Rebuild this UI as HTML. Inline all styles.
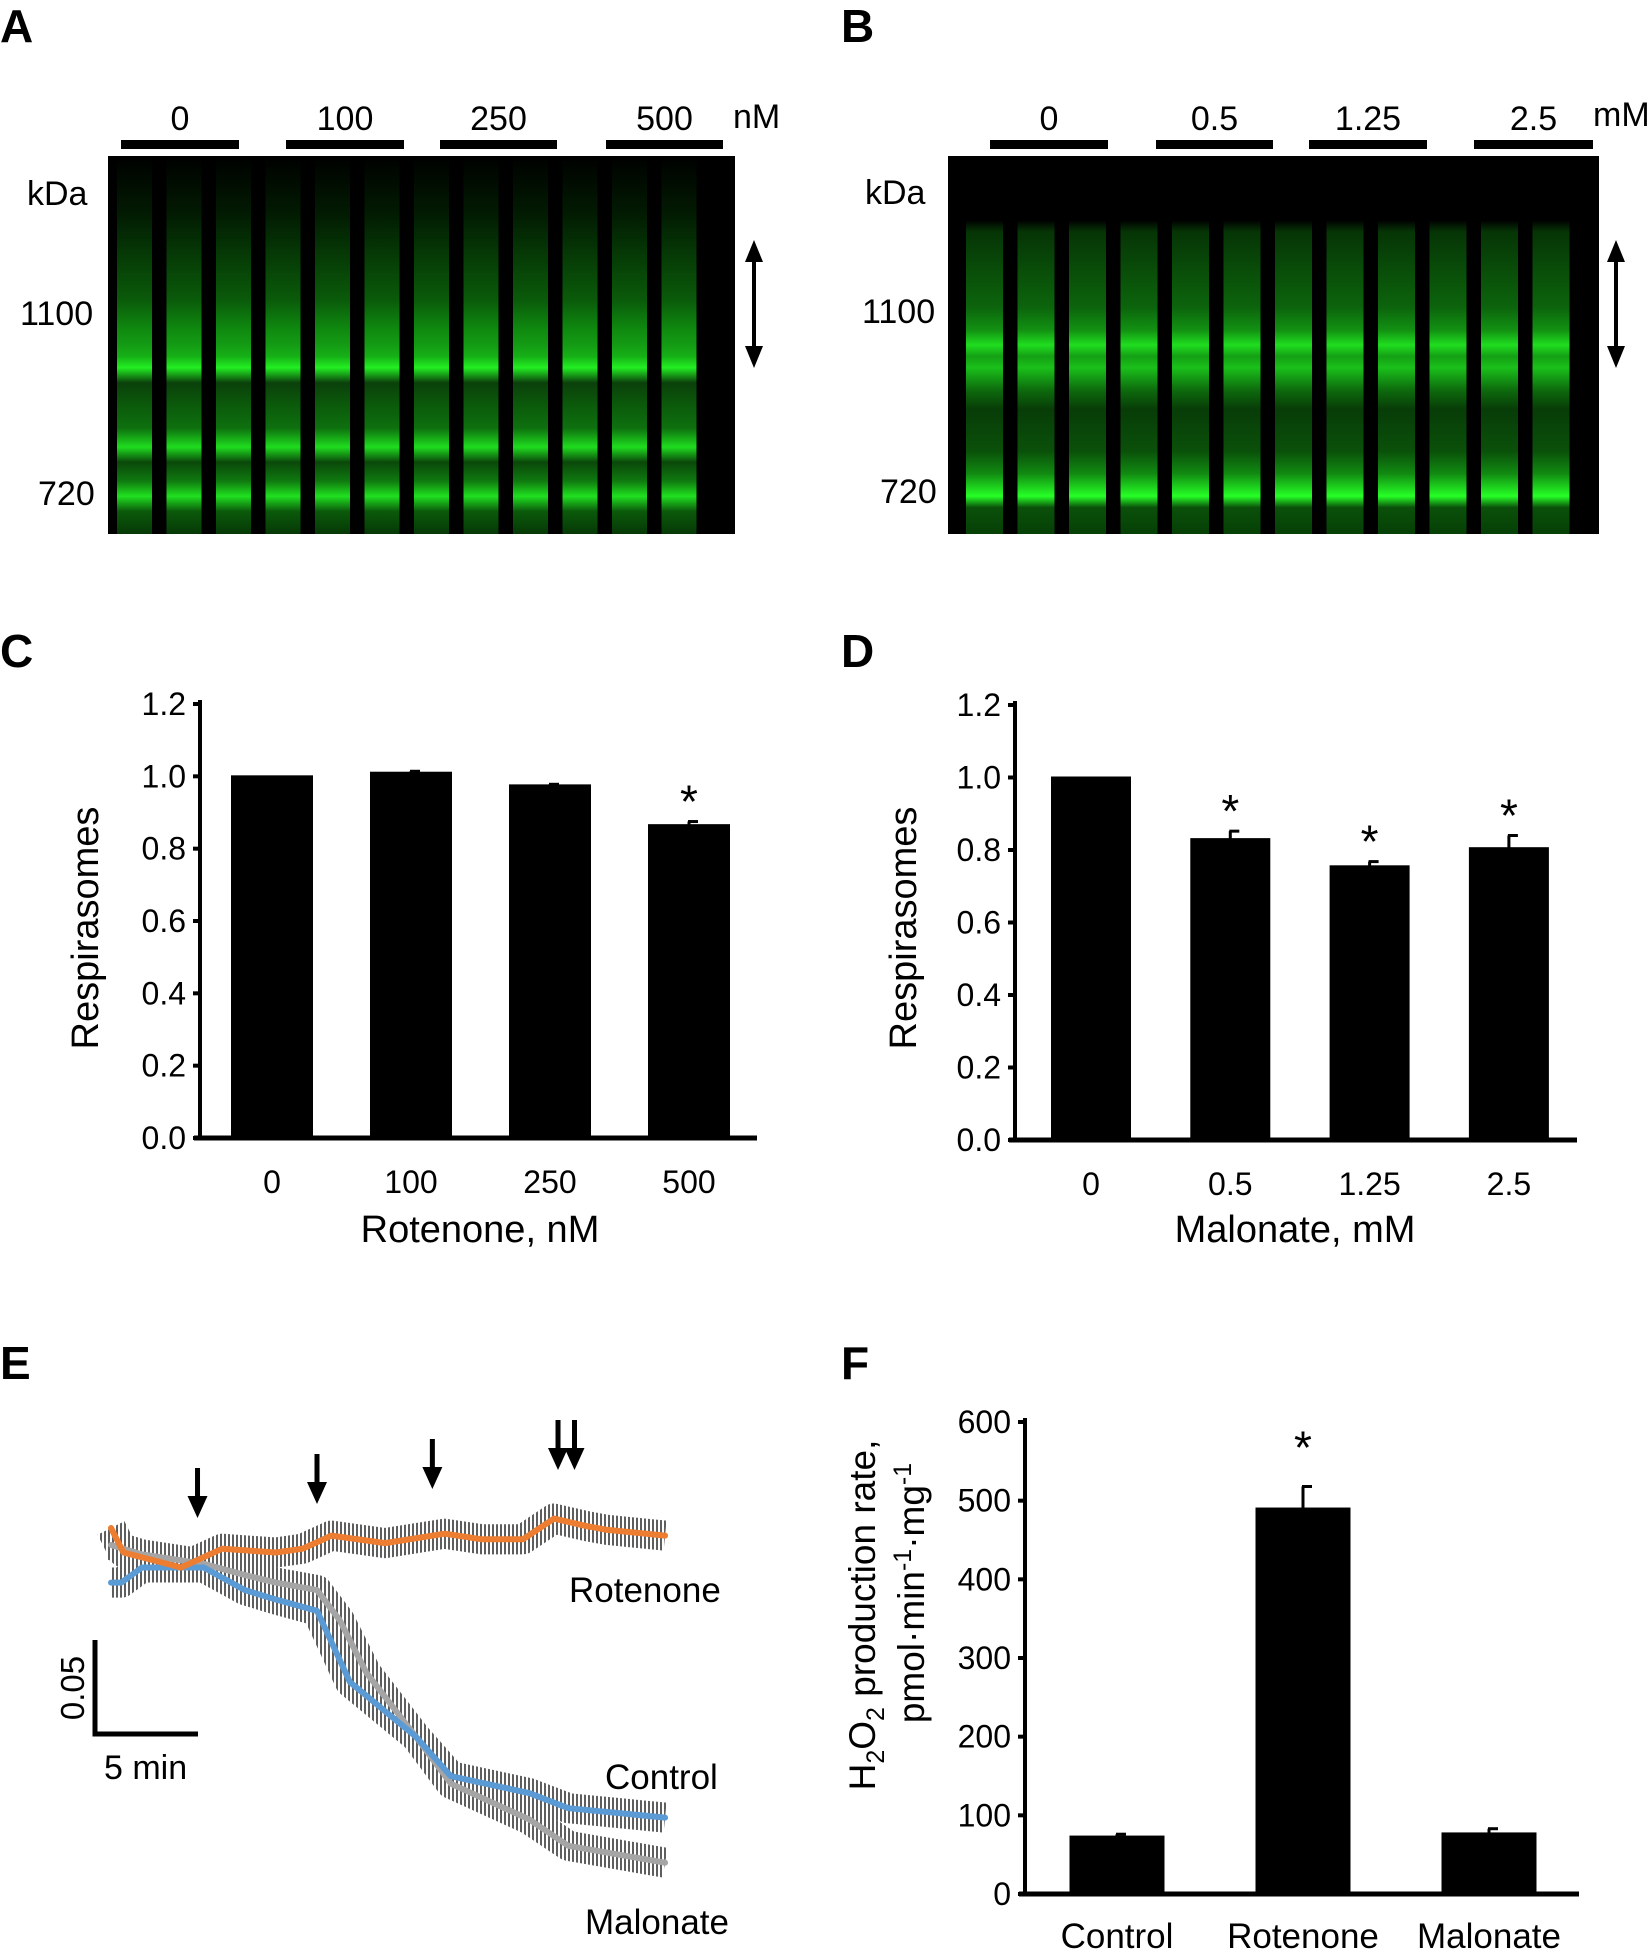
<!DOCTYPE html>
<html><head><meta charset="utf-8">
<style>
html,body{margin:0;padding:0;background:#fff;}
svg{display:block;font-family:"Liberation Sans",Arial,sans-serif;}
.lt{font-weight:bold;font-size:46px;}
.t{font-size:34px;}
</style></head>
<body>
<svg id="fig" width="1648" height="1951" viewBox="0 0 1648 1951" xmlns="http://www.w3.org/2000/svg">
<defs>
<linearGradient id="laneA" x1="0" y1="0" x2="0" y2="1">
<stop offset="0" stop-color="#000"/>
<stop offset="0.15" stop-color="#021a02"/>
<stop offset="0.38" stop-color="#0a5a0a"/>
<stop offset="0.46" stop-color="#0f8a0f"/>
<stop offset="0.5" stop-color="#149b14"/>
<stop offset="0.53" stop-color="#16b016"/>
<stop offset="0.56" stop-color="#22ee22"/>
<stop offset="0.6" stop-color="#0b400b"/>
<stop offset="0.66" stop-color="#0b5a0b"/>
<stop offset="0.72" stop-color="#0e700e"/>
<stop offset="0.77" stop-color="#1fdc1f"/>
<stop offset="0.81" stop-color="#0a480a"/>
<stop offset="0.86" stop-color="#0f7a0f"/>
<stop offset="0.9" stop-color="#20e020"/>
<stop offset="0.94" stop-color="#0b5a0b"/>
<stop offset="1" stop-color="#063806"/>
</linearGradient>
<linearGradient id="laneB" x1="0" y1="0" x2="0" y2="1">
<stop offset="0" stop-color="#000"/>
<stop offset="0.17" stop-color="#000"/>
<stop offset="0.2" stop-color="#063406"/>
<stop offset="0.4" stop-color="#0c640c"/>
<stop offset="0.46" stop-color="#129012"/>
<stop offset="0.5" stop-color="#20dd20"/>
<stop offset="0.53" stop-color="#14a014"/>
<stop offset="0.56" stop-color="#1ac01a"/>
<stop offset="0.62" stop-color="#0d6a0d"/>
<stop offset="0.67" stop-color="#083c08"/>
<stop offset="0.78" stop-color="#0a500a"/>
<stop offset="0.84" stop-color="#118a11"/>
<stop offset="0.9" stop-color="#26ff26"/>
<stop offset="0.93" stop-color="#0a500a"/>
<stop offset="1" stop-color="#064006"/>
</linearGradient>
<pattern id="hatch" patternUnits="userSpaceOnUse" width="4" height="10">
<rect x="0" y="0" width="2" height="10" fill="#5e5e5e"/>
</pattern>
</defs>

<text class="lt" x="0" y="42">A</text>
<text class="lt" x="841" y="42">B</text>
<text class="lt" x="0" y="667">C</text>
<text class="lt" x="841" y="667">D</text>
<text class="lt" x="0" y="1379">E</text>
<text class="lt" x="841" y="1379">F</text>

<g>
<rect x="108" y="156" width="627" height="378" fill="#000"/>
<g id="lanesA"></g>
<g class="t">
<text x="27" y="205">kDa</text>
<text x="20" y="325">1100</text>
<text x="38" y="505">720</text>
</g>
<g id="groupsA"></g>
<text class="t" x="733" y="128">nM</text>
<g>
<line x1="754" y1="252" x2="754" y2="356" stroke="#000" stroke-width="4"/>
<polygon points="754,240 745,262 763,262" fill="#000"/>
<polygon points="754,368 745,346 763,346" fill="#000"/>
</g>
</g>

<g>
<rect x="948" y="156" width="651" height="378" fill="#000"/>
<g id="lanesB"></g>
<g class="t">
<text x="865" y="204">kDa</text>
<text x="862" y="323">1100</text>
<text x="880" y="503">720</text>
</g>
<g id="groupsB"></g>
<text class="t" x="1593" y="126">mM</text>
<g>
<line x1="1616" y1="252" x2="1616" y2="356" stroke="#000" stroke-width="4"/>
<polygon points="1616,240 1607,262 1625,262" fill="#000"/>
<polygon points="1616,368 1607,346 1625,346" fill="#000"/>
</g>
</g>

<g id="chartC"></g>
<g id="chartD"></g>
<g id="chartE"></g>
<g id="chartF"></g>
</svg>
<script>
const NS="http://www.w3.org/2000/svg";
function mk(parent,tag,attrs,txt){const e=document.createElementNS(NS,tag);for(const k in attrs)e.setAttribute(k,attrs[k]);if(txt!==undefined)e.textContent=txt;parent.appendChild(e);return e;}

const gelAGroups=["0","100","250","500"];
const gelBGroups=["0","0.5","1.25","2.5"];

(function(){
  const gA=document.getElementById('lanesA');
  for(let i=0;i<12;i++){const r=mk(gA,'rect',{x:117+i*49.5,y:156,width:35,height:378,fill:'url(#laneA)'});
    
    }
  const gB=document.getElementById('lanesB');
  for(let i=0;i<12;i++){const r=mk(gB,'rect',{x:966+i*51.5,y:156,width:37,height:378,fill:'url(#laneB)'});
    
    }
  const barsA=[[121,239],[286,404],[440,557],[606,723]];
  const barsB=[[990,1108],[1156,1273],[1309,1427],[1474,1593]];
  const grA=document.getElementById('groupsA'),grB=document.getElementById('groupsB');
  gelAGroups.forEach((l,i)=>{const b=barsA[i];
    const r=mk(grA,'rect',{x:b[0],y:140,width:b[1]-b[0],height:9,fill:'#000'});
    
    
    const t=mk(grA,'text',{x:(b[0]+b[1])/2,y:130,'text-anchor':'middle','font-size':34},l);
    
    });
  gelBGroups.forEach((l,i)=>{const b=barsB[i];
    const r=mk(grB,'rect',{x:b[0],y:140,width:b[1]-b[0],height:9,fill:'#000'});
    
    
    const t=mk(grB,'text',{x:(b[0]+b[1])/2,y:130,'text-anchor':'middle','font-size':34},l);
    
    });
})();

const cCategories=["0","100","250","500"];
const cValues=[1.0,1.01,0.975,0.865];
const cErrors=[0,0.004,0.003,0.01];
const cStars=[false,false,false,true];
const dCategories=["0","0.5","1.25","2.5"];
const dValues=[1.0,0.83,0.755,0.805];
const dErrors=[0,0.022,0.013,0.035];
const dStars=[false,true,true,true];
const respTicks=["0.0","0.2","0.4","0.6","0.8","1.0","1.2"];
const fCategories=["Control","Rotenone","Malonate"];
const fValues=[73,490,77];
const fErrors=[3,28,6];
const fStars=[false,true,false];
const fTicks=["0","100","200","300","400","500","600"];

function barChart(g,o){
  const y=v=>o.y0-(v-o.min)/(o.max-o.min)*(o.y0-o.y1);
  const ax=mk(g,'line',{x1:o.ax,y1:o.y1-4,x2:o.ax,y2:o.y0,stroke:'#000','stroke-width':4});
  
  
  o.ticks.forEach((t,i)=>{const v=o.min+i*(o.max-o.min)/(o.ticks.length-1);const yy=y(v);
    const tk=mk(g,'line',{x1:o.ax-7,y1:yy,x2:o.ax,y2:yy,stroke:'#000','stroke-width':4});
    
    
    const tl=mk(g,'text',{x:o.ax-14,y:yy+11,'text-anchor':'end','font-size':32},t);
    
    });
  o.cats.forEach((c,i)=>{const cx=o.c0+i*o.step;const top=y(o.vals[i]);
    if(o.errs[i]>0){const et=y(o.vals[i]+o.errs[i]);
      const el=mk(g,'line',{x1:cx,y1:et,x2:cx,y2:top,stroke:'#000','stroke-width':3});
      
      
      const ec=mk(g,'line',{x1:cx-1,y1:et,x2:cx+9,y2:et,stroke:'#000','stroke-width':3});
      
      }
    const b=mk(g,'rect',{x:cx-o.bw/2,y:top,width:o.bw,height:o.y0-top,fill:'#000',stroke:'#000','stroke-width':2});
    
    
    if(o.stars[i]){const s=mk(g,'text',{x:cx,y:y(o.vals[i]+o.errs[i])-o.starGap+22,'text-anchor':'middle','font-size':46},'*');
      
      }
    const xl=mk(g,'text',{x:cx,y:o.xlY,'text-anchor':'middle','font-size':o.xlSize||32},c);
    
    });
  const xa=mk(g,'line',{x1:o.ax-6,y1:o.y0,x2:o.xEnd,y2:o.y0,stroke:'#000','stroke-width':5});
  
  
}

barChart(document.getElementById('chartC'),{ax:200,y0:1138,y1:704,min:0,max:1.2,ticks:respTicks,cats:cCategories,vals:cValues,errs:cErrors,stars:cStars,c0:272,step:139,bw:80,xEnd:757,xlY:1193,starGap:26});
barChart(document.getElementById('chartD'),{ax:1015,y0:1140,y1:705,min:0,max:1.2,ticks:respTicks,cats:dCategories,vals:dValues,errs:dErrors,stars:dStars,c0:1091,step:139.3,bw:78,xEnd:1577,xlY:1195,starGap:26});
barChart(document.getElementById('chartF'),{ax:1025,y0:1894,y1:1422,min:0,max:600,ticks:fTicks,cats:fCategories,vals:fValues,errs:fErrors,stars:fStars,c0:1117,step:186,bw:93,xEnd:1579,xlY:1948,starGap:45,xlSize:35});

(function(){
  const gc=document.getElementById('chartC');
  let t=mk(gc,'text',{x:480,y:1242,'text-anchor':'middle','font-size':38},'Rotenone, nM');
  
  t=mk(gc,'text',{x:0,y:0,'text-anchor':'middle','font-size':38,transform:'translate(98,928) rotate(-90)'},'Respirasomes');
  
  const gd=document.getElementById('chartD');
  t=mk(gd,'text',{x:1295,y:1242,'text-anchor':'middle','font-size':38},'Malonate, mM');
  
  t=mk(gd,'text',{x:0,y:0,'text-anchor':'middle','font-size':38,transform:'translate(916,928) rotate(-90)'},'Respirasomes');
  
  const gf=document.getElementById('chartF');
  t=mk(gf,'text',{x:0,y:0,'text-anchor':'middle','font-size':37,transform:'translate(875,1615) rotate(-90)'});
  
  mk(t,'tspan',{},'H');mk(t,'tspan',{'font-size':25,dy:9},'2');mk(t,'tspan',{dy:-9},'O');mk(t,'tspan',{'font-size':25,dy:9},'2');mk(t,'tspan',{dy:-9},' production rate,');
  t=mk(gf,'text',{x:0,y:0,'text-anchor':'middle','font-size':37,transform:'translate(924,1593) rotate(-90)'});
  
  mk(t,'tspan',{},'pmol·min');mk(t,'tspan',{'font-size':25,dy:-13},'-1');mk(t,'tspan',{dy:13},'·mg');mk(t,'tspan',{'font-size':25,dy:-13},'-1');
})();

// ---- panel E trace data (time in min, absorbance offset)
const eTimeRot=[0,0.6,3.4,5.4,8.0,9.3,10.7,13.3,16.2,18.0,20.0,21.5,23.1,24.1,26.9];
const eRot=[0.017,0.004,-0.004,0.006,0.004,0.006,0.013,0.009,0.014,0.011,0.011,0.022,0.018,0.016,0.013];
const eTimeCtl=[0,0.5,1.5,4.5,6.5,8.0,10.0,11.6,14.8,16.5,20.3,22.2,26.9];
const eCtl=[-0.012,-0.012,-0.004,-0.004,-0.016,-0.021,-0.027,-0.065,-0.094,-0.115,-0.124,-0.132,-0.137];
const eTimeMal=[0,1.5,4.5,6.5,8.0,10.0,11.1,12.4,14.8,16.5,20.3,22.2,26.9];
const eMal=[0.008,0.003,-0.002,-0.008,-0.012,-0.016,-0.032,-0.060,-0.094,-0.119,-0.138,-0.152,-0.161];
const eErr=[0.008,0.008,0.008];
const eArrowTimes=[4.2,10.0,15.6,21.7,22.5];

(function(){
  const g=document.getElementById('chartE');
  const x=t=>111+t*20.6;
  const y=v=>1560-v*1880;
  function series(ts,vs,col,name,err){
    const d=ts.map((t,i)=>(i?'L':'M')+x(t).toFixed(1)+','+y(vs[i]).toFixed(1)).join(' ');
    const h=mk(g,'path',{d:d,fill:'none',stroke:'url(#hatch)','stroke-width':err*1880*2,'stroke-linejoin':'round'});
    
    
    return [d,col,name];
  }
  const s=[series(eTimeMal,eMal,'#a5a5a5','malonate-trace',eErr[2]),series(eTimeCtl,eCtl,'#5b9bd5','control-trace',eErr[0]),series(eTimeRot,eRot,'#ed7d31','rotenone-trace',eErr[1])];
  s.forEach(a=>{const p=mk(g,'path',{d:a[0],fill:'none',stroke:a[1],'stroke-width':6,'stroke-linejoin':'round','stroke-linecap':'round'});
    
    });
  const tops=[1468,1454,1439,1420,1420];
  eArrowTimes.forEach((t,i)=>{const ax=x(t);
    const l=mk(g,'line',{x1:ax,y1:tops[i],x2:ax,y2:tops[i]+30,stroke:'#000','stroke-width':5});
    
    
    const p=mk(g,'polygon',{points:`${ax-10},${tops[i]+28} ${ax+10},${tops[i]+28} ${ax},${tops[i]+50}`,fill:'#000'});
    
    });
  let sb=mk(g,'path',{d:'M95,1640 L95,1734 L198,1734',fill:'none',stroke:'#000','stroke-width':5});
  
  let t=mk(g,'text',{x:0,y:0,'text-anchor':'middle','font-size':33,transform:'translate(84,1688) rotate(-90)'},'0.05');
  
  t=mk(g,'text',{x:104,y:1779,'font-size':34},'5 min');
  
  t=mk(g,'text',{x:569,y:1602,'font-size':35},'Rotenone');
  
  t=mk(g,'text',{x:605,y:1789,'font-size':35},'Control');
  
  t=mk(g,'text',{x:585,y:1934,'font-size':35},'Malonate');
  
})();
</script>
</body></html>
